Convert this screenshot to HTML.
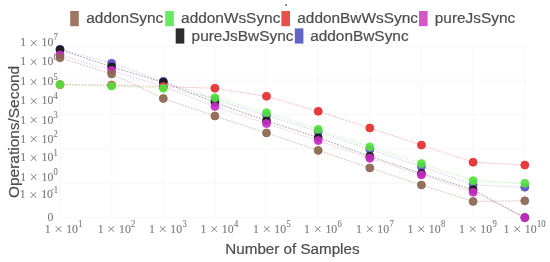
<!DOCTYPE html>
<html><head><meta charset="utf-8"><style>
html,body{margin:0;padding:0;background:#fff;width:550px;height:262px;overflow:hidden}
svg{position:absolute;left:0;top:0;display:block;filter:blur(0.3px)}
.tk{font-family:"Liberation Serif",serif;font-size:11.8px;fill:#777;stroke:#777;stroke-width:0.1}
.tx{font-family:"Liberation Serif",serif;font-size:15px;fill:#808080}
.sp{font-family:"Liberation Serif",serif;font-size:9.8px;fill:#777;stroke:#777;stroke-width:0.1}
.lg{font-family:"Liberation Sans",Arial,sans-serif;font-size:15.4px;fill:#4d4d4d;stroke:#4d4d4d;stroke-width:0.2}
.ti{font-family:"Liberation Sans",Arial,sans-serif;font-size:15.2px;fill:#4d4d4d;stroke:#4d4d4d;stroke-width:0.2}
</style></head><body>
<svg width="550" height="262" viewBox="0 0 550 262">
<line x1="59.5" y1="45.8" x2="526" y2="45.8" stroke="#fafafa" stroke-width="1.8"/>
<line x1="59.5" y1="80.2" x2="526" y2="80.2" stroke="#fafafa" stroke-width="1.8"/>
<line x1="59.5" y1="114.5" x2="526" y2="114.5" stroke="#fafafa" stroke-width="1.8"/>
<line x1="59.5" y1="148.9" x2="526" y2="148.9" stroke="#fafafa" stroke-width="1.8"/>
<line x1="59.5" y1="183.2" x2="526" y2="183.2" stroke="#fafafa" stroke-width="1.8"/>
<line x1="59.5" y1="217.6" x2="526" y2="217.6" stroke="#fafafa" stroke-width="1.8"/>
<line x1="60" y1="45.8" x2="60" y2="217.6" stroke="#fafafa" stroke-width="1.8"/>
<line x1="111.6" y1="45.8" x2="111.6" y2="217.6" stroke="#fafafa" stroke-width="1.8"/>
<line x1="163.3" y1="45.8" x2="163.3" y2="217.6" stroke="#fafafa" stroke-width="1.8"/>
<line x1="214.9" y1="45.8" x2="214.9" y2="217.6" stroke="#fafafa" stroke-width="1.8"/>
<line x1="266.5" y1="45.8" x2="266.5" y2="217.6" stroke="#fafafa" stroke-width="1.8"/>
<line x1="318.2" y1="45.8" x2="318.2" y2="217.6" stroke="#fafafa" stroke-width="1.8"/>
<line x1="369.8" y1="45.8" x2="369.8" y2="217.6" stroke="#fafafa" stroke-width="1.8"/>
<line x1="421.4" y1="45.8" x2="421.4" y2="217.6" stroke="#fafafa" stroke-width="1.8"/>
<line x1="473.1" y1="45.8" x2="473.1" y2="217.6" stroke="#fafafa" stroke-width="1.8"/>
<line x1="524.8" y1="45.8" x2="524.8" y2="217.6" stroke="#fafafa" stroke-width="1.8"/>
<text x="20.16" y="46.0" class="tk">1</text><text x="29.60" y="47.60" class="tx">×</text><text x="41.50" y="46.0" class="tk">10</text><text transform="translate(53.60,40.40) scale(0.88,1)" class="sp">7</text>
<text x="20.16" y="65.4" class="tk">1</text><text x="29.60" y="67.00" class="tx">×</text><text x="41.50" y="65.4" class="tk">10</text><text transform="translate(53.60,59.80) scale(0.88,1)" class="sp">6</text>
<text x="20.16" y="85.2" class="tk">1</text><text x="29.60" y="86.80" class="tx">×</text><text x="41.50" y="85.2" class="tk">10</text><text transform="translate(53.60,79.60) scale(0.88,1)" class="sp">5</text>
<text x="20.16" y="104.3" class="tk">1</text><text x="29.60" y="105.90" class="tx">×</text><text x="41.50" y="104.3" class="tk">10</text><text transform="translate(53.60,98.70) scale(0.88,1)" class="sp">4</text>
<text x="20.16" y="123.6" class="tk">1</text><text x="29.60" y="125.20" class="tx">×</text><text x="41.50" y="123.6" class="tk">10</text><text transform="translate(53.60,118.00) scale(0.88,1)" class="sp">3</text>
<text x="20.16" y="142.8" class="tk">1</text><text x="29.60" y="144.40" class="tx">×</text><text x="41.50" y="142.8" class="tk">10</text><text transform="translate(53.60,137.20) scale(0.88,1)" class="sp">2</text>
<text x="20.16" y="161.4" class="tk">1</text><text x="29.60" y="163.00" class="tx">×</text><text x="41.50" y="161.4" class="tk">10</text><text transform="translate(53.60,155.80) scale(0.88,1)" class="sp">1</text>
<text x="20.16" y="180.7" class="tk">1</text><text x="29.60" y="182.30" class="tx">×</text><text x="41.50" y="180.7" class="tk">10</text><text transform="translate(53.60,175.10) scale(0.88,1)" class="sp">0</text>
<text x="19.86" y="198.3" class="tk">1</text>
<text x="29.30" y="199.90" class="tx">×</text>
<text x="41.20" y="198.3" class="tk">10</text>
<line x1="51.7" y1="189.4" x2="54.2" y2="189.4" stroke="#999" stroke-width="0.9"/>
<text transform="translate(53.7,193.40) scale(0.88,1)" class="sp">1</text>
<text x="47.4" y="221.2" class="tk">0</text>
<text x="44.86" y="232.5" class="tk">1</text><text x="54.30" y="234.10" class="tx">×</text><text x="66.20" y="232.5" class="tk">10</text><text transform="translate(78.30,226.90) scale(0.88,1)" class="sp">1</text>
<text x="97.66" y="232.5" class="tk">1</text><text x="107.10" y="234.10" class="tx">×</text><text x="119.00" y="232.5" class="tk">10</text><text transform="translate(131.10,226.90) scale(0.88,1)" class="sp">2</text>
<text x="148.96" y="232.5" class="tk">1</text><text x="158.40" y="234.10" class="tx">×</text><text x="170.30" y="232.5" class="tk">10</text><text transform="translate(182.40,226.90) scale(0.88,1)" class="sp">3</text>
<text x="200.46" y="232.5" class="tk">1</text><text x="209.90" y="234.10" class="tx">×</text><text x="221.80" y="232.5" class="tk">10</text><text transform="translate(233.90,226.90) scale(0.88,1)" class="sp">4</text>
<text x="252.96" y="232.5" class="tk">1</text><text x="262.40" y="234.10" class="tx">×</text><text x="274.30" y="232.5" class="tk">10</text><text transform="translate(286.40,226.90) scale(0.88,1)" class="sp">5</text>
<text x="304.06" y="232.5" class="tk">1</text><text x="313.50" y="234.10" class="tx">×</text><text x="325.40" y="232.5" class="tk">10</text><text transform="translate(337.50,226.90) scale(0.88,1)" class="sp">6</text>
<text x="355.96" y="232.5" class="tk">1</text><text x="365.40" y="234.10" class="tx">×</text><text x="377.30" y="232.5" class="tk">10</text><text transform="translate(389.40,226.90) scale(0.88,1)" class="sp">7</text>
<text x="407.46" y="232.5" class="tk">1</text><text x="416.90" y="234.10" class="tx">×</text><text x="428.80" y="232.5" class="tk">10</text><text transform="translate(440.90,226.90) scale(0.88,1)" class="sp">8</text>
<text x="458.96" y="232.5" class="tk">1</text><text x="468.40" y="234.10" class="tx">×</text><text x="480.30" y="232.5" class="tk">10</text><text transform="translate(492.40,226.90) scale(0.88,1)" class="sp">9</text>
<text x="503.46" y="232.5" class="tk">1</text><text x="512.90" y="234.10" class="tx">×</text><text x="524.80" y="232.5" class="tk">10</text><text transform="translate(536.90,226.90) scale(0.88,1)" class="sp">10</text>
<polyline points="60,49.2 111.6,63.2 163.3,81.2 214.9,99.5 266.5,115.5 318.2,131.5 369.8,149.5 421.4,166.5 473.1,184.8 524.8,187.2" fill="none" stroke="#5a50c6" stroke-opacity="0.3" stroke-width="0.9" stroke-dasharray="1.8 1.25"/>
<polyline points="60,49.7 111.6,66.8 163.3,82.3 214.9,102.5 266.5,120.8 318.2,137.6 369.8,156.3 421.4,173.4 473.1,189.8 524.8,217.6" fill="none" stroke="#181818" stroke-opacity="0.42" stroke-width="0.9" stroke-dasharray="1.8 1.25"/>
<polyline points="60,54.9 111.6,70.4 163.3,86.5 214.9,106.5 266.5,123.6 318.2,140.6 369.8,158.3 421.4,174.9 473.1,192.2 524.8,217.6" fill="none" stroke="#c82cc4" stroke-opacity="0.3" stroke-width="0.9" stroke-dasharray="1.8 1.25"/>
<polyline points="60,84.6 111.6,85.1 163.3,86.7 214.9,88.2 266.5,96.3 318.2,111.3 369.8,128.0 421.4,145.1 473.1,162.2 524.8,165.1" fill="none" stroke="#e62d2d" stroke-opacity="0.36" stroke-width="0.9" stroke-dasharray="1.8 1.25"/>
<polyline points="60,84.6 111.6,86.0 163.3,88.2 214.9,97.7 266.5,112.7 318.2,129.3 369.8,146.9 421.4,163.6 473.1,180.7 524.8,183.3" fill="none" stroke="#52e23e" stroke-opacity="0.36" stroke-width="0.9" stroke-dasharray="1.8 1.25"/>
<polyline points="60,57.8 111.6,73.9 163.3,98.5 214.9,116.0 266.5,132.9 318.2,150.4 369.8,167.9 421.4,185.0 473.1,201.4 524.8,200.8" fill="none" stroke="#8c6550" stroke-opacity="0.45" stroke-width="0.9" stroke-dasharray="1.8 1.25"/>
<circle cx="60" cy="49.2" r="4.0" fill="#5a50c6" fill-opacity="0.92" stroke="#5a50c6" stroke-opacity="0.92" stroke-width="0.8"/>
<circle cx="111.6" cy="63.2" r="4.0" fill="#5a50c6" fill-opacity="0.92" stroke="#5a50c6" stroke-opacity="0.92" stroke-width="0.8"/>
<circle cx="163.3" cy="81.2" r="4.0" fill="#5a50c6" fill-opacity="0.92" stroke="#5a50c6" stroke-opacity="0.92" stroke-width="0.8"/>
<circle cx="214.9" cy="99.5" r="4.0" fill="#5a50c6" fill-opacity="0.92" stroke="#5a50c6" stroke-opacity="0.92" stroke-width="0.8"/>
<circle cx="266.5" cy="115.5" r="4.0" fill="#5a50c6" fill-opacity="0.92" stroke="#5a50c6" stroke-opacity="0.92" stroke-width="0.8"/>
<circle cx="318.2" cy="131.5" r="4.0" fill="#5a50c6" fill-opacity="0.92" stroke="#5a50c6" stroke-opacity="0.92" stroke-width="0.8"/>
<circle cx="369.8" cy="149.5" r="4.0" fill="#5a50c6" fill-opacity="0.92" stroke="#5a50c6" stroke-opacity="0.92" stroke-width="0.8"/>
<circle cx="421.4" cy="166.5" r="4.0" fill="#5a50c6" fill-opacity="0.92" stroke="#5a50c6" stroke-opacity="0.92" stroke-width="0.8"/>
<circle cx="473.1" cy="184.8" r="4.0" fill="#5a50c6" fill-opacity="0.92" stroke="#5a50c6" stroke-opacity="0.92" stroke-width="0.8"/>
<circle cx="524.8" cy="187.2" r="4.0" fill="#5a50c6" fill-opacity="0.92" stroke="#5a50c6" stroke-opacity="0.92" stroke-width="0.8"/>
<circle cx="60" cy="49.7" r="4.0" fill="#181818" fill-opacity="0.92" stroke="#181818" stroke-opacity="0.92" stroke-width="0.8"/>
<circle cx="111.6" cy="66.8" r="4.0" fill="#181818" fill-opacity="0.92" stroke="#181818" stroke-opacity="0.92" stroke-width="0.8"/>
<circle cx="163.3" cy="82.3" r="4.0" fill="#181818" fill-opacity="0.92" stroke="#181818" stroke-opacity="0.92" stroke-width="0.8"/>
<circle cx="214.9" cy="102.5" r="4.0" fill="#181818" fill-opacity="0.92" stroke="#181818" stroke-opacity="0.92" stroke-width="0.8"/>
<circle cx="266.5" cy="120.8" r="4.0" fill="#181818" fill-opacity="0.92" stroke="#181818" stroke-opacity="0.92" stroke-width="0.8"/>
<circle cx="318.2" cy="137.6" r="4.0" fill="#181818" fill-opacity="0.92" stroke="#181818" stroke-opacity="0.92" stroke-width="0.8"/>
<circle cx="369.8" cy="156.3" r="4.0" fill="#181818" fill-opacity="0.92" stroke="#181818" stroke-opacity="0.92" stroke-width="0.8"/>
<circle cx="421.4" cy="173.4" r="4.0" fill="#181818" fill-opacity="0.92" stroke="#181818" stroke-opacity="0.92" stroke-width="0.8"/>
<circle cx="473.1" cy="189.8" r="4.0" fill="#181818" fill-opacity="0.92" stroke="#181818" stroke-opacity="0.92" stroke-width="0.8"/>
<circle cx="524.8" cy="217.6" r="4.0" fill="#181818" fill-opacity="0.92" stroke="#181818" stroke-opacity="0.92" stroke-width="0.8"/>
<circle cx="60" cy="54.9" r="4.0" fill="#c82cc4" fill-opacity="0.92" stroke="#c82cc4" stroke-opacity="0.92" stroke-width="0.8"/>
<circle cx="111.6" cy="70.4" r="4.0" fill="#c82cc4" fill-opacity="0.92" stroke="#c82cc4" stroke-opacity="0.92" stroke-width="0.8"/>
<circle cx="163.3" cy="86.5" r="4.0" fill="#c82cc4" fill-opacity="0.92" stroke="#c82cc4" stroke-opacity="0.92" stroke-width="0.8"/>
<circle cx="214.9" cy="106.5" r="4.0" fill="#c82cc4" fill-opacity="0.92" stroke="#c82cc4" stroke-opacity="0.92" stroke-width="0.8"/>
<circle cx="266.5" cy="123.6" r="4.0" fill="#c82cc4" fill-opacity="0.92" stroke="#c82cc4" stroke-opacity="0.92" stroke-width="0.8"/>
<circle cx="318.2" cy="140.6" r="4.0" fill="#c82cc4" fill-opacity="0.92" stroke="#c82cc4" stroke-opacity="0.92" stroke-width="0.8"/>
<circle cx="369.8" cy="158.3" r="4.0" fill="#c82cc4" fill-opacity="0.92" stroke="#c82cc4" stroke-opacity="0.92" stroke-width="0.8"/>
<circle cx="421.4" cy="174.9" r="4.0" fill="#c82cc4" fill-opacity="0.92" stroke="#c82cc4" stroke-opacity="0.92" stroke-width="0.8"/>
<circle cx="473.1" cy="192.2" r="4.0" fill="#c82cc4" fill-opacity="0.92" stroke="#c82cc4" stroke-opacity="0.92" stroke-width="0.8"/>
<circle cx="524.8" cy="217.6" r="4.0" fill="#c82cc4" fill-opacity="0.92" stroke="#c82cc4" stroke-opacity="0.92" stroke-width="0.8"/>
<circle cx="60" cy="84.6" r="4.0" fill="#e62d2d" fill-opacity="0.92" stroke="#e62d2d" stroke-opacity="0.92" stroke-width="0.8"/>
<circle cx="111.6" cy="85.1" r="4.0" fill="#e62d2d" fill-opacity="0.92" stroke="#e62d2d" stroke-opacity="0.92" stroke-width="0.8"/>
<circle cx="163.3" cy="86.7" r="4.0" fill="#e62d2d" fill-opacity="0.92" stroke="#e62d2d" stroke-opacity="0.92" stroke-width="0.8"/>
<circle cx="214.9" cy="88.2" r="4.0" fill="#e62d2d" fill-opacity="0.92" stroke="#e62d2d" stroke-opacity="0.92" stroke-width="0.8"/>
<circle cx="266.5" cy="96.3" r="4.0" fill="#e62d2d" fill-opacity="0.92" stroke="#e62d2d" stroke-opacity="0.92" stroke-width="0.8"/>
<circle cx="318.2" cy="111.3" r="4.0" fill="#e62d2d" fill-opacity="0.92" stroke="#e62d2d" stroke-opacity="0.92" stroke-width="0.8"/>
<circle cx="369.8" cy="128.0" r="4.0" fill="#e62d2d" fill-opacity="0.92" stroke="#e62d2d" stroke-opacity="0.92" stroke-width="0.8"/>
<circle cx="421.4" cy="145.1" r="4.0" fill="#e62d2d" fill-opacity="0.92" stroke="#e62d2d" stroke-opacity="0.92" stroke-width="0.8"/>
<circle cx="473.1" cy="162.2" r="4.0" fill="#e62d2d" fill-opacity="0.92" stroke="#e62d2d" stroke-opacity="0.92" stroke-width="0.8"/>
<circle cx="524.8" cy="165.1" r="4.0" fill="#e62d2d" fill-opacity="0.92" stroke="#e62d2d" stroke-opacity="0.92" stroke-width="0.8"/>
<circle cx="60" cy="84.6" r="4.0" fill="#52e23e" fill-opacity="0.92" stroke="#52e23e" stroke-opacity="0.92" stroke-width="0.8"/>
<circle cx="111.6" cy="86.0" r="4.0" fill="#52e23e" fill-opacity="0.92" stroke="#52e23e" stroke-opacity="0.92" stroke-width="0.8"/>
<circle cx="163.3" cy="88.2" r="4.0" fill="#52e23e" fill-opacity="0.92" stroke="#52e23e" stroke-opacity="0.92" stroke-width="0.8"/>
<circle cx="214.9" cy="97.7" r="4.0" fill="#52e23e" fill-opacity="0.92" stroke="#52e23e" stroke-opacity="0.92" stroke-width="0.8"/>
<circle cx="266.5" cy="112.7" r="4.0" fill="#52e23e" fill-opacity="0.92" stroke="#52e23e" stroke-opacity="0.92" stroke-width="0.8"/>
<circle cx="318.2" cy="129.3" r="4.0" fill="#52e23e" fill-opacity="0.92" stroke="#52e23e" stroke-opacity="0.92" stroke-width="0.8"/>
<circle cx="369.8" cy="146.9" r="4.0" fill="#52e23e" fill-opacity="0.92" stroke="#52e23e" stroke-opacity="0.92" stroke-width="0.8"/>
<circle cx="421.4" cy="163.6" r="4.0" fill="#52e23e" fill-opacity="0.92" stroke="#52e23e" stroke-opacity="0.92" stroke-width="0.8"/>
<circle cx="473.1" cy="180.7" r="4.0" fill="#52e23e" fill-opacity="0.92" stroke="#52e23e" stroke-opacity="0.92" stroke-width="0.8"/>
<circle cx="524.8" cy="183.3" r="4.0" fill="#52e23e" fill-opacity="0.92" stroke="#52e23e" stroke-opacity="0.92" stroke-width="0.8"/>
<circle cx="60" cy="57.8" r="4.0" fill="#8c6550" fill-opacity="0.92" stroke="#8c6550" stroke-opacity="0.92" stroke-width="0.8"/>
<circle cx="111.6" cy="73.9" r="4.0" fill="#8c6550" fill-opacity="0.92" stroke="#8c6550" stroke-opacity="0.92" stroke-width="0.8"/>
<circle cx="163.3" cy="98.5" r="4.0" fill="#8c6550" fill-opacity="0.92" stroke="#8c6550" stroke-opacity="0.92" stroke-width="0.8"/>
<circle cx="214.9" cy="116.0" r="4.0" fill="#8c6550" fill-opacity="0.92" stroke="#8c6550" stroke-opacity="0.92" stroke-width="0.8"/>
<circle cx="266.5" cy="132.9" r="4.0" fill="#8c6550" fill-opacity="0.92" stroke="#8c6550" stroke-opacity="0.92" stroke-width="0.8"/>
<circle cx="318.2" cy="150.4" r="4.0" fill="#8c6550" fill-opacity="0.92" stroke="#8c6550" stroke-opacity="0.92" stroke-width="0.8"/>
<circle cx="369.8" cy="167.9" r="4.0" fill="#8c6550" fill-opacity="0.92" stroke="#8c6550" stroke-opacity="0.92" stroke-width="0.8"/>
<circle cx="421.4" cy="185.0" r="4.0" fill="#8c6550" fill-opacity="0.92" stroke="#8c6550" stroke-opacity="0.92" stroke-width="0.8"/>
<circle cx="473.1" cy="201.4" r="4.0" fill="#8c6550" fill-opacity="0.92" stroke="#8c6550" stroke-opacity="0.92" stroke-width="0.8"/>
<circle cx="524.8" cy="200.8" r="4.0" fill="#8c6550" fill-opacity="0.92" stroke="#8c6550" stroke-opacity="0.92" stroke-width="0.8"/>
<rect x="70.2" y="11" width="8.6" height="15.2" fill="#a07662"/>
<text x="86.3" y="23.4" class="lg">addonSync</text>
<rect x="165.2" y="11" width="8.6" height="15.2" fill="#68e864"/>
<text x="181.1" y="23.4" class="lg">addonWsSync</text>
<rect x="281.4" y="11" width="8.6" height="15.2" fill="#e8504b"/>
<text x="297.3" y="23.4" class="lg">addonBwWsSync</text>
<rect x="419" y="11" width="8.6" height="15.2" fill="#d655cd"/>
<text x="434.8" y="23.4" class="lg">pureJsSync</text>
<rect x="175.7" y="28.4" width="8.6" height="15.2" fill="#2d2d2d"/>
<text x="191.6" y="40.8" class="lg">pureJsBwSync</text>
<rect x="294.8" y="28.4" width="8.6" height="15.2" fill="#6464c8"/>
<text x="310.2" y="40.8" class="lg">addonBwSync</text>
<circle cx="286" cy="5" r="0.9" fill="#555"/>
<text x="292.45" y="253.6" text-anchor="middle" class="ti">Number of Samples</text>
<text transform="translate(18.5,131.9) rotate(-90)" text-anchor="middle" class="ti" style="font-size:15.45px">Operations/Second</text>
</svg>
</body></html>
